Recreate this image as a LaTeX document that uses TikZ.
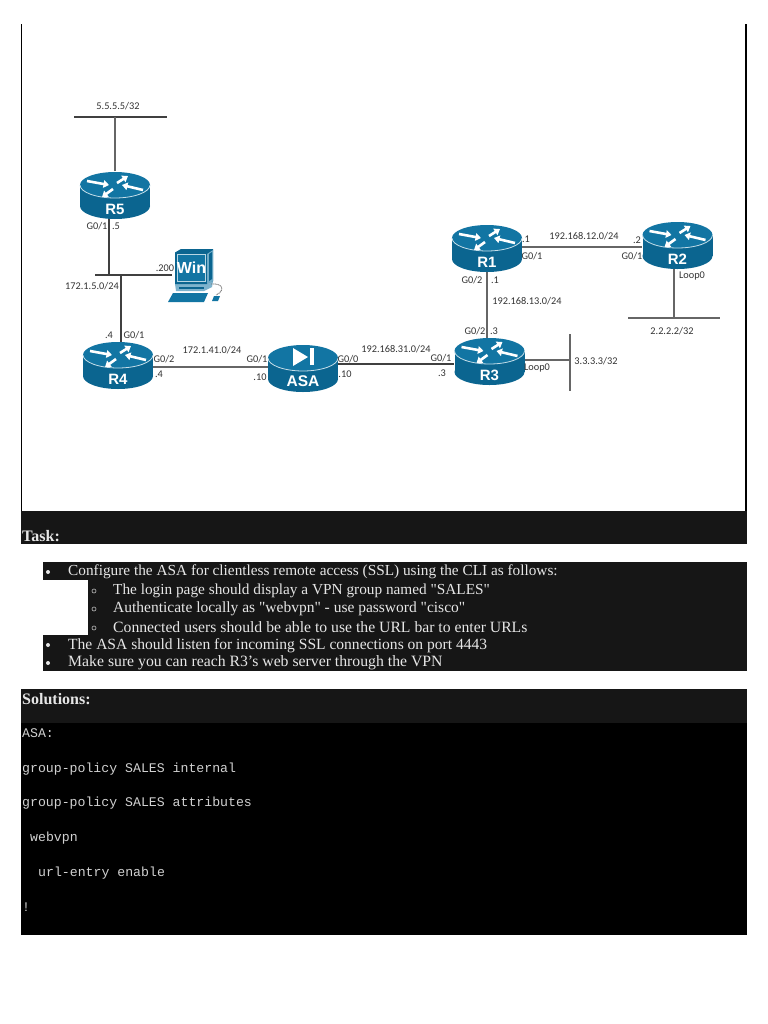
\documentclass[tikz,border=0pt]{standalone}
\usepackage{fontspec}
\setmainfont{Liberation Serif}
\newfontfamily\bodyfont{Liberation Serif}[Ligatures=Common]
\newfontfamily\lblfont{Carlito}
\newfontfamily\iconfont{Liberation Sans}
\newfontfamily\codefont{Liberation Mono}
\usetikzlibrary{arrows.meta}
\definecolor{devbody}{HTML}{0B6590}
\definecolor{devtop}{HTML}{1275A3}
\definecolor{band}{HTML}{161616}
\definecolor{lightbar}{HTML}{E6E6E6}
\newcommand{\itemsize}[1]{\bodyfont\fontsize{#1bp}{17bp}\selectfont}
\tikzset{
  devbox/.style={inner sep=0pt,minimum width=70bp,minimum height=47bp},
  lbl/.style={font=\lblfont\fontsize{10.3bp}{12bp}\selectfont,text=black!80,inner sep=0pt},
  wire/.style={draw=black!60,line width=1.1bp},
  thickwire/.style={draw=black!75,line width=1.5bp},
  devarrow/.style={white,line width=2.6bp,-{Triangle[length=5.5bp,width=7.5bp]}},
  devname/.style={font=\iconfont\bfseries\fontsize{15bp}{17bp}\selectfont,text=white,inner sep=0pt},
  head/.style={font=\bodyfont\bfseries\fontsize{16bp}{18bp}\selectfont,text=lightbar,anchor=west,inner sep=0pt},
  item/.style={text=lightbar,anchor=west,inner sep=0pt},
  code/.style={font=\codefont\fontsize{13.2bp}{15bp}\selectfont,text=black!18,anchor=west,inner sep=0pt},
  bulletmark/.style={circle,fill=lightbar,inner sep=0pt,minimum size=4bp},
  ringmark/.style={circle,draw=black!35,line width=.7bp,inner sep=0pt,minimum size=4bp},
}
\newcommand{\devshell}[2]{% cx, top
  \begin{scope}[shift={(#1,#2)}]
    \fill[devbody] (0,34) ellipse [x radius=35,y radius=13];
    \fill[devbody] (-35,13) rectangle (35,34);
    \fill[devtop] (0,13) ellipse [x radius=35,y radius=13];
    \draw[white!75!devtop,line width=.8bp] (-35,13) .. controls (-35,20.2) and (-19,26) .. (0,26) .. controls (19,26) and (35,20.2) .. (35,13);
  \end{scope}}
\newcommand{\routericon}[4]{% name, cx, top, label
  \devshell{#2}{#3}
  \begin{scope}[shift={(#2,#3)}]
    \draw[devarrow] (-28,9) -- (-6,13);
    \draw[devarrow] (2,11) -- (13,4);
    \draw[devarrow] (28,18) -- (7,13);
    \draw[devarrow] (-2,17) -- (-13,25);
    \node[devname] (#1t) at (0,37) {#4};
  \end{scope}}
\begin{document}
\begin{tikzpicture}[x=1bp,y=-1bp]
\useasboundingbox (0,0) rectangle (768,1024);
\fill[white] (0,0) rectangle (768,1024);
% page bands
\draw[black,line width=1.2bp] (21.5,24) -- (21.5,511);
\draw[black,line width=1.2bp] (746,24) -- (746,511);
\fill[band] (21,511) rectangle (747,544);
\fill[band] (43,562) rectangle (747,671);
\fill[white] (43,580) rectangle (88,635);
\fill[band] (21,689) rectangle (747,723);
\fill[black] (21,723) rectangle (747,935);
% anchors for devices
\node[devbox] (r5) at (115,195) {};
\node[devbox] (r4) at (118,365.5) {};
\node[devbox] (asa) at (303,368.5) {};
\node[devbox] (r1) at (487,248.5) {};
\node[devbox] (r2) at (677.5,245.5) {};
\node[devbox] (r3) at (489.5,361.5) {};
\coordinate (b5l) at (74,117);
\coordinate (b5r) at (167,117);
\coordinate (lanl) at (95,275);
\coordinate (lanr) at (172,275);
\coordinate (b2l) at (628,318);
\coordinate (b2r) at (720,318);
\coordinate (b3t) at (570,334);
\coordinate (b3b) at (570,391);
% connectors
\draw[thickwire] (b5l) -- (b5r);
\draw[wire] (r5.north) -- (r5.north |- b5l);
\draw[thickwire] (lanl) -- (lanr);
\draw[thickwire] ([xshift=-6bp]r5.south) -- ([xshift=-6bp]r5.south |- lanl);
\draw[thickwire] ([xshift=3bp]r4.north) -- ([xshift=3bp]r4.north |- lanl);
\draw[wire] ([yshift=-1.5bp]r4.east) -- ([yshift=-1.5bp]r4.east -| asa.west);
\draw[wire,draw=black!75] ([yshift=4.5bp]asa.east) -- ([yshift=4.5bp]asa.east -| r3.west);
\draw[wire] ([yshift=1.5bp]r1.east) -- ([yshift=1.5bp]r1.east -| r2.west);
\draw[wire] (r1.south) -- (r1.south |- r3.north);
\draw[wire] ([xshift=-3.5bp]r2.south) -- ([xshift=-3.5bp]r2.south |- b2l);
\draw[wire] (b2l) -- (b2r);
\draw[wire] ([yshift=1.5bp]r3.east) -- ([yshift=1.5bp]r3.east -| b3t);
\draw[wire] (b3t) -- (b3b);
% devices
\routericon{r5i}{115}{172}{R5}
\routericon{r4i}{118}{342}{R4}
\routericon{r1i}{487}{225}{R1}
\routericon{r2i}{677.5}{222}{R2}
\routericon{r3i}{489.5}{338}{R3}
\devshell{303}{345}
\fill[white] (293,348) -- (293,366) -- (308,357) -- cycle;
\fill[white] (310,348) rectangle (314,365);
\node[devname,font=\iconfont\bfseries\fontsize{15.5bp}{17bp}\selectfont] (asat) at (303,381) {ASA};
% Win PC
\fill[devtop!55!white] (175,284) -- (208,284) -- (213,281) -- (212,287) -- (204,291) -- (176,291) -- cycle;
\fill[devbody] (179,287) rectangle (204,289);
\fill[devbody] (175,252.5) -- (181,249) -- (213,249) -- (213,281) -- (207,284) -- (175,284) -- cycle;
\fill[devtop!60!white] (207,254) -- (213,250) -- (213,281) -- (207,284) -- cycle;
\fill[devbody] (209,254) -- (212,252) -- (212,279) -- (209,281) -- cycle;
\fill[white!70!devtop] (177,254) rectangle (205.5,282);
\fill[devtop] (178,255) rectangle (204.5,281);
\node[devname,font=\iconfont\bfseries\fontsize{16bp}{18bp}\selectfont] (win) at (191.5,268) {Win};
\fill[devtop] (173,293) -- (208,293) -- (204,302) -- (168,302) -- cycle;
\fill[devtop] (214,296) -- (220,296) -- (218,301) -- (212,301) -- cycle;
\draw[black!55,line width=.8bp,dash pattern=on 1.2bp off .6bp] (211,284) .. controls (224,283) and (225,291) .. (216,295);
% labels
\node[lbl] (l1) at (118,106) {5.5.5.5/32};
\node[lbl] (l2) at (97,226) {G0/1};
\node[lbl] (l3) at (116,226) {.5};
\node[lbl] (l4) at (165,268) {.200};
\node[lbl] (l5) at (92,286) {172.1.5.0/24};
\node[lbl] (l6) at (109,335) {.4};
\node[lbl] (l7) at (134,335) {G0/1};
\node[lbl] (l8) at (164,359) {G0/2};
\node[lbl] (l9) at (159,374) {.4};
\node[lbl] (l10) at (212,350) {172.1.41.0/24};
\node[lbl] (l11) at (257,359) {G0/1};
\node[lbl] (l12) at (260,377) {.10};
\node[lbl] (l13) at (348,359) {G0/0};
\node[lbl] (l14) at (345,374) {.10};
\node[lbl] (l15) at (396,349) {192.168.31.0/24};
\node[lbl] (l16) at (441,358) {G0/1};
\node[lbl] (l17) at (442,373) {.3};
\node[lbl] (l18) at (475,331) {G0/2};
\node[lbl] (l19) at (494,331) {.3};
\node[lbl] (l20) at (472,280) {G0/2};
\node[lbl] (l21) at (495,280) {.1};
\node[lbl] (l22) at (527,301) {192.168.13.0/24};
\node[lbl] (l23) at (526,239) {.1};
\node[lbl] (l24) at (532,256) {G0/1};
\node[lbl] (l25) at (584,236) {192.168.12.0/24};
\node[lbl] (l26) at (637,240) {.2};
\node[lbl] (l27) at (632,256) {G0/1};
\node[lbl] (l28) at (692,276) {Loop0};
\node[lbl] (l29) at (672,331) {2.2.2.2/32};
\node[lbl] (l30) at (537,368) {Loop0};
\node[lbl] (l31) at (596,361) {3.3.3.3/32};
% text
\node[head] (task) at (22,536) {Task:};
\node[bulletmark] (m1) at (48,572) {};
\node[item,font=\itemsize{15.3}] (t1) at (68,572) {Configure the ASA for clientless remote access (SSL) using the CLI as follows:};
\node[ringmark] (m2) at (94,591) {};
\node[item,font=\itemsize{15.3}] (t2) at (113,590.5) {The login page should display a VPN group named "SALES"};
\node[ringmark] (m3) at (94,609) {};
\node[item,font=\itemsize{15.5}] (t3) at (113,608.5) {Authenticate locally as "webvpn" - use password "cisco"};
\node[ringmark] (m4) at (94,628) {};
\node[item,font=\itemsize{15.7}] (t4) at (113,627) {Connected users should be able to use the URL bar to enter URLs};
\node[bulletmark] (m5) at (48,645) {};
\node[item,font=\itemsize{15.55}] (t5) at (68,645.5) {The ASA should listen for incoming SSL connections on port 4443};
\node[bulletmark] (m6) at (48,663) {};
\node[item,font=\itemsize{15.75}] (t6) at (68,663) {Make sure you can reach R3’s web server through the VPN};
\node[head] (sol) at (22,699) {Solutions:};
\node[code] (c1) at (22,733.5) {ASA:};
\node[code] (c2) at (22,769.5) {group-policy SALES internal};
\node[code] (c3) at (22,803.5) {group-policy SALES attributes};
\node[code] (c4) at (30,838.5) {webvpn};
\node[code] (c5) at (38,873.5) {url-entry enable};
\node[code] (c6) at (22,907.5) {!};
\end{tikzpicture}
\end{document}
